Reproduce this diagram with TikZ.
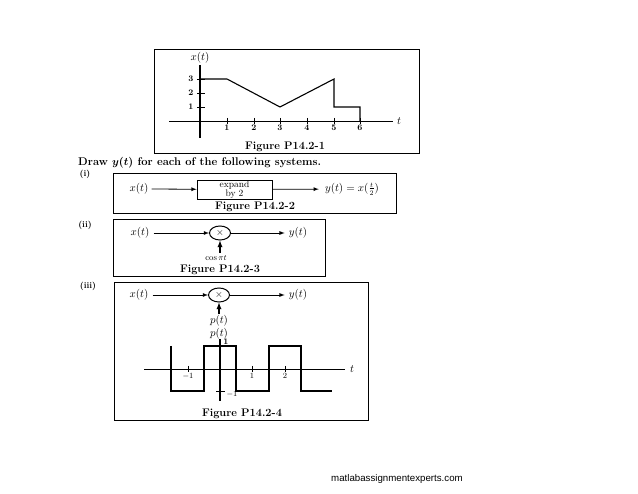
\documentclass[tikz,border=0pt]{standalone}
\usepackage{amsmath}
\usepackage{fontspec}
\newfontfamily\footfont{Liberation Sans}
\usetikzlibrary{arrows,shapes}
\tikzset{
    frame/.style={draw,thick},
    caption/.style={font=\fontsize{11}{12}\bfseries},
    lab/.style={font=\fontsize{10.5}{11}\selectfont,inner sep=1pt},
    num/.style={font=\fontsize{8.5}{9}\bfseries,inner sep=1pt},
    sig/.style={draw,line width=1.1pt},
    conn/.style={draw,-latex,thick},
    mult/.style={draw,line width=1pt,ellipse,minimum width=21pt,minimum height=14pt,inner sep=0pt},
    tick/.style={draw,thick}
}
\begin{document}
\begin{tikzpicture}[x=1pt,y=-1pt]
            \useasboundingbox (0,0) rectangle (638,494);
            % first figure
            \draw[frame] (154,49) rectangle (419,153);
            \draw[thick] (169,121)--(393,121);
            \draw[line width=1.1pt] (200,65)--(200,138);
            \node[lab] (xlab) at (200,58) {\(x(t)\)};
            \node[lab] (tlab) at (399,121) {\(t\)};
            \foreach \x/\n in {227/1,254/2,280/3,307/4,334/5,360/6}{
                \draw[tick] (\x,118)--(\x,124);
                \node[num] (tick\n) at (\x,128) {\n};
            }
            \foreach \y/\n in {79/3,93/2,107/1}{
                \draw[tick] (197,\y)--(205,\y);
                \node[num] (val\n) at (191,\y) {\n};
            }
            \draw[sig] (200,79)--(227,79)--(280,107)--(334,79)--(334,107)--(360,107)--(360,121);
            \node[caption] (capa) at (285,147) {Figure P14.2-1};
            \node[font=\fontsize{11.2}{12}\bfseries,anchor=west,inner sep=0pt] (draw) at (78,163) {Draw \(\boldsymbol{y(t)}\) for each of the following systems.};
            % system i
            \node[num] (parti) at (85,174) {(i)};
            \draw[frame] (113,173) rectangle (396,213);
            \node[draw,thick,minimum width=75pt,minimum height=19pt,inner sep=0pt,align=center,font=\fontsize{9.5}{9.5}\selectfont] (expand) at (234.5,189.5) {expand\\by 2};
            \node[lab] (xi) at (139,189) {\(x(t)\)};
            \node[lab] (yi) at (352,189) {\(y(t)=x(\frac{t}{2})\)};
            \draw[conn] (xi.east)+(2,0)--(expand);
            \draw[conn,shorten >=5pt] (expand)--(yi);
            \node[caption] (capb) at (255,207) {Figure P14.2-2};
            % system ii
            \node[num] (partii) at (85,225) {(ii)};
            \draw[frame] (113,219) rectangle (325,276);
            \node[mult] (multa) at (220,233) {\(\times\)};
            \node[lab] (xii) at (140,233) {\(x(t)\)};
            \node[lab] (yii) at (298,233) {\(y(t)\)};
            \node[num,font=\fontsize{8.5}{9}\selectfont] (cosii) at (216,258) {\(\cos\pi t\)};
            \coordinate (cosup) at (220,253);
            \draw[conn] (xii.east)+(3,0)--(multa);
            \draw[conn,shorten >=3pt] (multa)--(yii);
            \draw[-latex,line width=1.3pt] (cosup)--(multa);
            \node[caption] (capc) at (220,270) {Figure P14.2-3};
            % system iii
            \node[num] (partiii) at (88,286) {(iii)};
            \draw[frame] (114,282) rectangle (368,420);
            \node[mult] (multb) at (219,295) {\(\times\)};
            \node[lab] (xiii) at (139,295) {\(x(t)\)};
            \node[lab] (yiii) at (298,295) {\(y(t)\)};
            \node[lab] (pin) at (219,321) {\(p(t)\)};
            \draw[conn] (xiii.east)+(3,0)--(multb);
            \draw[conn,shorten >=3pt] (multb)--(yiii);
            \draw[-latex,line width=1.3pt] (pin)--(multb);
            % pulse train
            \node[lab] (plab) at (219,334) {\(p(t)\)};
            \draw[thick] (144,369)--(345,369);
            \draw[line width=1.1pt] (220,339)--(220,401);
            \node[lab] (tp) at (352,369) {\(t\)};
            \foreach \x/\n in {188/-1,252/1,285/2}{
                \draw[tick] (\x,366)--(\x,372);
                \node[num] (ptick\n) at (\x,376) {\(\n\)};
            }
            \node[num] (pone) at (226,342) {1};
            \draw[tick] (216,391)--(225,391);
            \node[num] (pmone) at (232,394) {\(-1\)};
            \draw[sig] (171,346)--(171,391)--(204,391)--(204,346)--(236,346)--(236,391)--(269,391)--(269,346)--(301,346)--(301,391)--(332,391);
            \node[caption] (capd) at (242,414) {Figure P14.2-4};
            \node[font=\footfont\fontsize{9.7}{11}\selectfont,anchor=west,inner sep=0pt] (foot) at (331,479) {matlabassignmentexperts.com};
        \end{tikzpicture}
\end{document}
